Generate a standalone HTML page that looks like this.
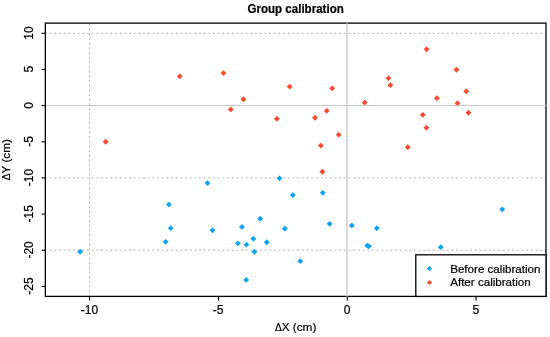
<!DOCTYPE html><html><head><meta charset="utf-8"><title>Group calibration</title><style>html,body{margin:0;padding:0;background:#fff}svg{display:block}text{font-family:"Liberation Sans",sans-serif;fill:#000;stroke:#000;stroke-width:0.22px}</style></head><body>
<svg width="550" height="337" viewBox="0 0 550 337">
<rect width="550" height="337" fill="#fff"/>
<g stroke="#a6a6a6" stroke-width="0.88" stroke-dasharray="1.9 2.772" stroke-dashoffset="0.45" fill="none">
<line x1="89.6" y1="296.4" x2="89.6" y2="23.1"/>
<line x1="45.35" y1="33.3" x2="546.0" y2="33.3"/>
<line x1="45.35" y1="177.9" x2="546.0" y2="177.9"/>
<line x1="45.35" y1="250.2" x2="546.0" y2="250.2"/>
</g>
<g>
<path d="M204.53 183.05L207.45 180.13L210.37 183.05L207.45 185.97Z" fill="#0fa2ee"/>
<path d="M165.93 204.55L168.85 201.63L171.77 204.55L168.85 207.47Z" fill="#0fa2ee"/>
<path d="M167.83 228.15L170.75 225.23L173.67 228.15L170.75 231.07Z" fill="#0fa2ee"/>
<path d="M162.73 241.85L165.65 238.93L168.57 241.85L165.65 244.77Z" fill="#0fa2ee"/>
<path d="M209.63 230.25L212.55 227.33L215.47 230.25L212.55 233.17Z" fill="#0fa2ee"/>
<path d="M239.03 226.95L241.95 224.03L244.87 226.95L241.95 229.87Z" fill="#0fa2ee"/>
<path d="M235.03 243.35L237.95 240.43L240.87 243.35L237.95 246.27Z" fill="#0fa2ee"/>
<path d="M77.23 251.75L80.15 248.83L83.07 251.75L80.15 254.67Z" fill="#0fa2ee"/>
<path d="M276.53 178.35L279.45 175.43L282.37 178.35L279.45 181.27Z" fill="#0fa2ee"/>
<path d="M289.93 195.05L292.85 192.13L295.77 195.05L292.85 197.97Z" fill="#0fa2ee"/>
<path d="M319.83 192.85L322.75 189.93L325.67 192.85L322.75 195.77Z" fill="#0fa2ee"/>
<path d="M257.23 218.75L260.15 215.83L263.07 218.75L260.15 221.67Z" fill="#0fa2ee"/>
<path d="M281.93 228.65L284.85 225.73L287.77 228.65L284.85 231.57Z" fill="#0fa2ee"/>
<path d="M326.73 223.85L329.65 220.93L332.57 223.85L329.65 226.77Z" fill="#0fa2ee"/>
<path d="M348.93 225.45L351.85 222.53L354.77 225.45L351.85 228.37Z" fill="#0fa2ee"/>
<path d="M373.93 228.15L376.85 225.23L379.77 228.15L376.85 231.07Z" fill="#0fa2ee"/>
<path d="M250.43 238.75L253.35 235.83L256.27 238.75L253.35 241.67Z" fill="#0fa2ee"/>
<path d="M243.53 244.65L246.45 241.73L249.37 244.65L246.45 247.57Z" fill="#0fa2ee"/>
<path d="M263.83 242.25L266.75 239.33L269.67 242.25L266.75 245.17Z" fill="#0fa2ee"/>
<path d="M251.43 251.75L254.35 248.83L257.27 251.75L254.35 254.67Z" fill="#0fa2ee"/>
<path d="M364.23 245.65L367.15 242.73L370.07 245.65L367.15 248.57Z" fill="#0fa2ee"/>
<path d="M365.93 246.35L368.85 243.43L371.77 246.35L368.85 249.27Z" fill="#0fa2ee"/>
<path d="M297.33 261.15L300.25 258.23L303.17 261.15L300.25 264.07Z" fill="#0fa2ee"/>
<path d="M499.33 209.35L502.25 206.43L505.17 209.35L502.25 212.27Z" fill="#0fa2ee"/>
<path d="M437.83 247.15L440.75 244.23L443.67 247.15L440.75 250.07Z" fill="#0fa2ee"/>
<path d="M243.33 279.95L246.25 277.03L249.17 279.95L246.25 282.87Z" fill="#0fa2ee"/>
<path d="M176.83 76.35L179.75 73.43L182.67 76.35L179.75 79.27Z" fill="#f84c30"/>
<path d="M220.53 73.05L223.45 70.13L226.37 73.05L223.45 75.97Z" fill="#f84c30"/>
<path d="M227.83 109.45L230.75 106.53L233.67 109.45L230.75 112.37Z" fill="#f84c30"/>
<path d="M240.53 99.25L243.45 96.33L246.37 99.25L243.45 102.17Z" fill="#f84c30"/>
<path d="M102.73 141.75L105.65 138.83L108.57 141.75L105.65 144.67Z" fill="#f84c30"/>
<path d="M286.73 86.55L289.65 83.63L292.57 86.55L289.65 89.47Z" fill="#f84c30"/>
<path d="M329.23 88.35L332.15 85.43L335.07 88.35L332.15 91.27Z" fill="#f84c30"/>
<path d="M273.93 118.85L276.85 115.93L279.77 118.85L276.85 121.77Z" fill="#f84c30"/>
<path d="M312.13 117.75L315.05 114.83L317.97 117.75L315.05 120.67Z" fill="#f84c30"/>
<path d="M323.83 110.85L326.75 107.93L329.67 110.85L326.75 113.77Z" fill="#f84c30"/>
<path d="M335.83 134.85L338.75 131.93L341.67 134.85L338.75 137.77Z" fill="#f84c30"/>
<path d="M317.83 145.55L320.75 142.63L323.67 145.55L320.75 148.47Z" fill="#f84c30"/>
<path d="M361.73 102.55L364.65 99.63L367.57 102.55L364.65 105.47Z" fill="#f84c30"/>
<path d="M385.53 78.15L388.45 75.23L391.37 78.15L388.45 81.07Z" fill="#f84c30"/>
<path d="M387.43 85.05L390.35 82.13L393.27 85.05L390.35 87.97Z" fill="#f84c30"/>
<path d="M423.73 49.25L426.65 46.33L429.57 49.25L426.65 52.17Z" fill="#f84c30"/>
<path d="M433.93 98.15L436.85 95.23L439.77 98.15L436.85 101.07Z" fill="#f84c30"/>
<path d="M419.83 114.85L422.75 111.93L425.67 114.85L422.75 117.77Z" fill="#f84c30"/>
<path d="M423.43 127.65L426.35 124.73L429.27 127.65L426.35 130.57Z" fill="#f84c30"/>
<path d="M404.83 147.25L407.75 144.33L410.67 147.25L407.75 150.17Z" fill="#f84c30"/>
<path d="M453.53 69.75L456.45 66.83L459.37 69.75L456.45 72.67Z" fill="#f84c30"/>
<path d="M463.33 91.25L466.25 88.33L469.17 91.25L466.25 94.17Z" fill="#f84c30"/>
<path d="M454.63 103.25L457.55 100.33L460.47 103.25L457.55 106.17Z" fill="#f84c30"/>
<path d="M465.53 112.75L468.45 109.83L471.37 112.75L468.45 115.67Z" fill="#f84c30"/>
<path d="M319.43 171.75L322.35 168.83L325.27 171.75L322.35 174.67Z" fill="#f84c30"/>
</g>
<g stroke="#000" stroke-width="1.3" fill="none"><rect x="45.35" y="23.1" width="500.65" height="273.29999999999995"/>
<line x1="89.6" y1="296.4" x2="89.6" y2="300.59999999999997" stroke-width="1.1"/>
<line x1="218.5" y1="296.4" x2="218.5" y2="300.59999999999997" stroke-width="1.1"/>
<line x1="347.3" y1="296.4" x2="347.3" y2="300.59999999999997" stroke-width="1.1"/>
<line x1="476.1" y1="296.4" x2="476.1" y2="300.59999999999997" stroke-width="1.1"/>
<line x1="45.35" y1="33.3" x2="41.550000000000004" y2="33.3" stroke-width="1.1"/>
<line x1="45.35" y1="69.4" x2="41.550000000000004" y2="69.4" stroke-width="1.1"/>
<line x1="45.35" y1="105.6" x2="41.550000000000004" y2="105.6" stroke-width="1.1"/>
<line x1="45.35" y1="141.8" x2="41.550000000000004" y2="141.8" stroke-width="1.1"/>
<line x1="45.35" y1="177.9" x2="41.550000000000004" y2="177.9" stroke-width="1.1"/>
<line x1="45.35" y1="214.1" x2="41.550000000000004" y2="214.1" stroke-width="1.1"/>
<line x1="45.35" y1="250.2" x2="41.550000000000004" y2="250.2" stroke-width="1.1"/>
<line x1="45.35" y1="286.4" x2="41.550000000000004" y2="286.4" stroke-width="1.1"/>
</g>
<line x1="347" y1="22.450000000000003" x2="347" y2="297.04999999999995" stroke="#bebebe" stroke-width="1.15"/>
<line x1="45.85" y1="105.5" x2="546.65" y2="105.5" stroke="#c6c6c6" stroke-width="1"/>
<rect x="415.8" y="254.8" width="130.2" height="41.599999999999966" fill="#fff" stroke="#000" stroke-width="1.3"/>
<path d="M426.85 268.60L429.40 266.05L431.95 268.60L429.40 271.15Z" fill="#0fa2ee"/>
<path d="M426.95 282.50L429.50 279.95L432.05 282.50L429.50 285.05Z" fill="#f84c30"/>
<text x="450.2" y="272.5" font-size="11.6">Before calibration</text>
<text x="450.2" y="286.2" font-size="11.6">After calibration</text>
<text transform="translate(295.6 12.5) scale(0.948 1)" font-size="12.2" font-weight="bold" text-anchor="middle" stroke-width="0.15">Group calibration</text>
<text x="89.4" y="313.8" font-size="12" text-anchor="middle">-10</text>
<text x="218.2" y="313.8" font-size="12" text-anchor="middle">-5</text>
<text x="347.1" y="313.8" font-size="12" text-anchor="middle">0</text>
<text x="475.9" y="313.8" font-size="12" text-anchor="middle">5</text>
<text transform="translate(32.7 33.0) rotate(-90)" font-size="12" text-anchor="middle">10</text>
<text transform="translate(32.7 69.1) rotate(-90)" font-size="12" text-anchor="middle">5</text>
<text transform="translate(32.7 105.3) rotate(-90)" font-size="12" text-anchor="middle">0</text>
<text transform="translate(32.7 141.4) rotate(-90)" font-size="12" text-anchor="middle">-5</text>
<text transform="translate(32.7 177.6) rotate(-90)" font-size="12" text-anchor="middle">-10</text>
<text transform="translate(32.7 213.8) rotate(-90)" font-size="12" text-anchor="middle">-15</text>
<text transform="translate(32.7 249.9) rotate(-90)" font-size="12" text-anchor="middle">-20</text>
<text transform="translate(32.7 286.1) rotate(-90)" font-size="12" text-anchor="middle">-25</text>
<text id="xl" x="274.9" y="331.35" font-size="11.75"><tspan font-size="10.2">Δ</tspan>X (cm)</text>
<text id="yl" transform="translate(10.2 180.3) rotate(-90)" font-size="11.75"><tspan font-size="10.2">Δ</tspan>Y (cm)</text>
</svg></body></html>
